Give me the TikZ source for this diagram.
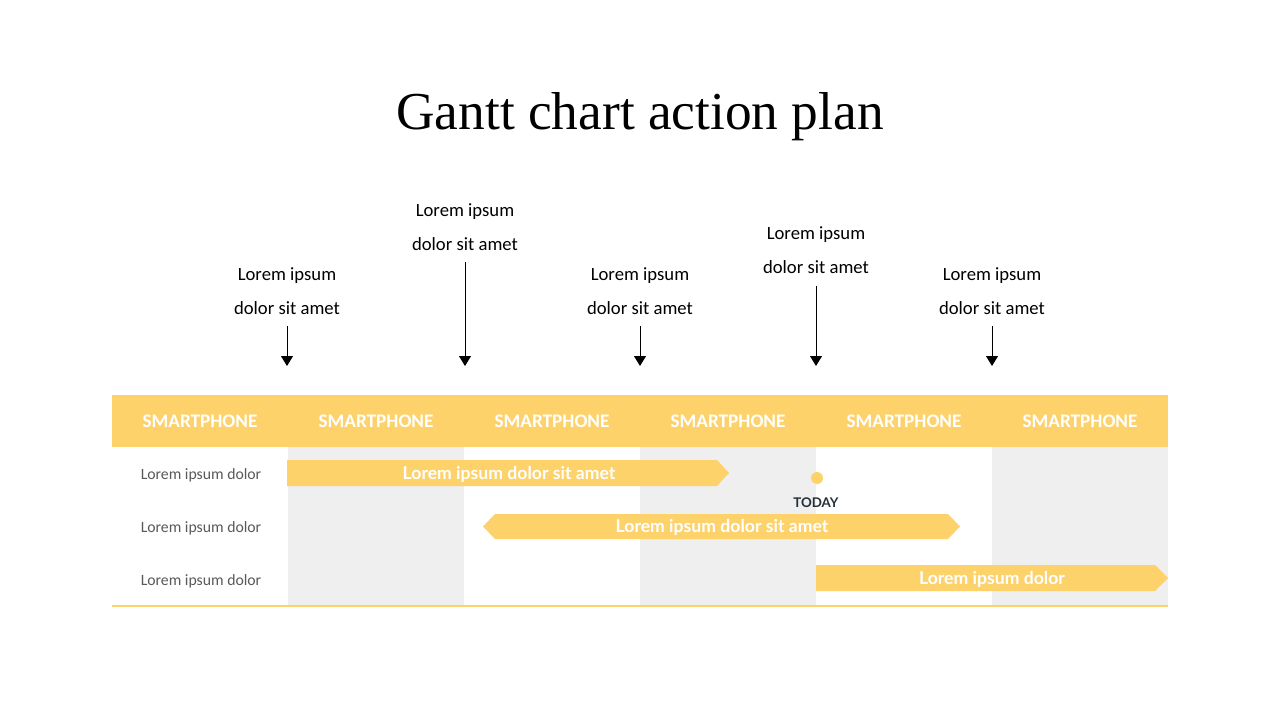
\documentclass[tikz,border=0pt]{standalone}
\usepackage{fontspec}
\setmainfont{Carlito}
\newfontfamily\titlefont{Liberation Serif}
\newfontfamily\barfont{Lato}
\usetikzlibrary{arrows.meta}
\definecolor{gold}{HTML}{FED26A}
\definecolor{colgray}{HTML}{EFEFEF}
\definecolor{rowtext}{HTML}{595959}
\definecolor{todaycol}{HTML}{262F3A}
\begin{document}
\begin{tikzpicture}[x=0.75pt,y=-0.75pt,
  hdr/.style={text=white,font=\bfseries\fontsize{14.4}{16}\selectfont},
  rowlbl/.style={text=rowtext,font=\fontsize{11.8}{13}\selectfont},
  bartext/.style={text=white,font=\barfont\bfseries\fontsize{13.2}{15}\selectfont},
  callout/.style={align=center,font=\fontsize{14}{25.5}\selectfont,inner sep=2pt},
  pointer/.style={-{Triangle[width=9pt,length=7.5pt]},line width=0.75pt,shorten <=6.5pt}]
\useasboundingbox (0,0) rectangle (1280,720);
\fill[white] (0,0) rectangle (1280,720);
\node[font=\titlefont\fontsize{40}{48}\selectfont] (title) at (640,117) {Gantt chart action plan};
% shaded columns
\fill[colgray] (288,447) rectangle (464,605);
\fill[colgray] (640,447) rectangle (816,605);
\fill[colgray] (992,447) rectangle (1168,605);
% header
\fill[gold] (112,395) rectangle (1168,447);
\foreach \i in {0,...,5}{
  \node[hdr] (h\i) at (200+176*\i,421.5) {SMARTPHONE};
}
\draw[gold,line width=1.5pt] (112,606) -- (1168,606);
% row labels
\node[rowlbl] (r1) at (201,475.5) {Lorem ipsum dolor};
\node[rowlbl] (r2) at (201,528.5) {Lorem ipsum dolor};
\node[rowlbl] (r3) at (201,581.5) {Lorem ipsum dolor};
% bars
\fill[gold] (287,460) -- (717,460) -- (729,473) -- (717,486) -- (287,486) -- cycle;
\node[bartext] (b1) at (509,474.5) {Lorem ipsum dolor sit amet};
\fill[gold] (483,526.5) -- (495,514) -- (948,514) -- (960,526.5) -- (948,539) -- (495,539) -- cycle;
\node[bartext] (b2) at (722,527.5) {Lorem ipsum dolor sit amet};
\fill[gold] (816,565) -- (1155,565) -- (1168,578) -- (1155,591) -- (816,591) -- cycle;
\node[bartext] (b3) at (992,579.5) {Lorem ipsum dolor};
% today
\node[circle,fill=gold,minimum size=9pt,inner sep=0pt] (dot) at (817,478) {};
\node[text=todaycol,font=\barfont\bfseries\fontsize{10}{12}\selectfont] (today) at (816,503) {TODAY};
% callouts
\node[callout] (c1) at (287,291) {Lorem ipsum\\dolor sit amet};
\node[callout] (c2) at (465,227) {Lorem ipsum\\dolor sit amet};
\node[callout] (c3) at (640,291) {Lorem ipsum\\dolor sit amet};
\node[callout] (c4) at (816,250.5) {Lorem ipsum\\dolor sit amet};
\node[callout] (c5) at (992,291) {Lorem ipsum\\dolor sit amet};
\coordinate (e1) at (287,366);
\coordinate (e2) at (465,366);
\coordinate (e3) at (640,366);
\coordinate (e4) at (816,366);
\coordinate (e5) at (992,366);
\foreach \k in {1,...,5}{
  \draw[pointer] (c\k.south) -- (e\k);
}
\end{tikzpicture}
\end{document}
